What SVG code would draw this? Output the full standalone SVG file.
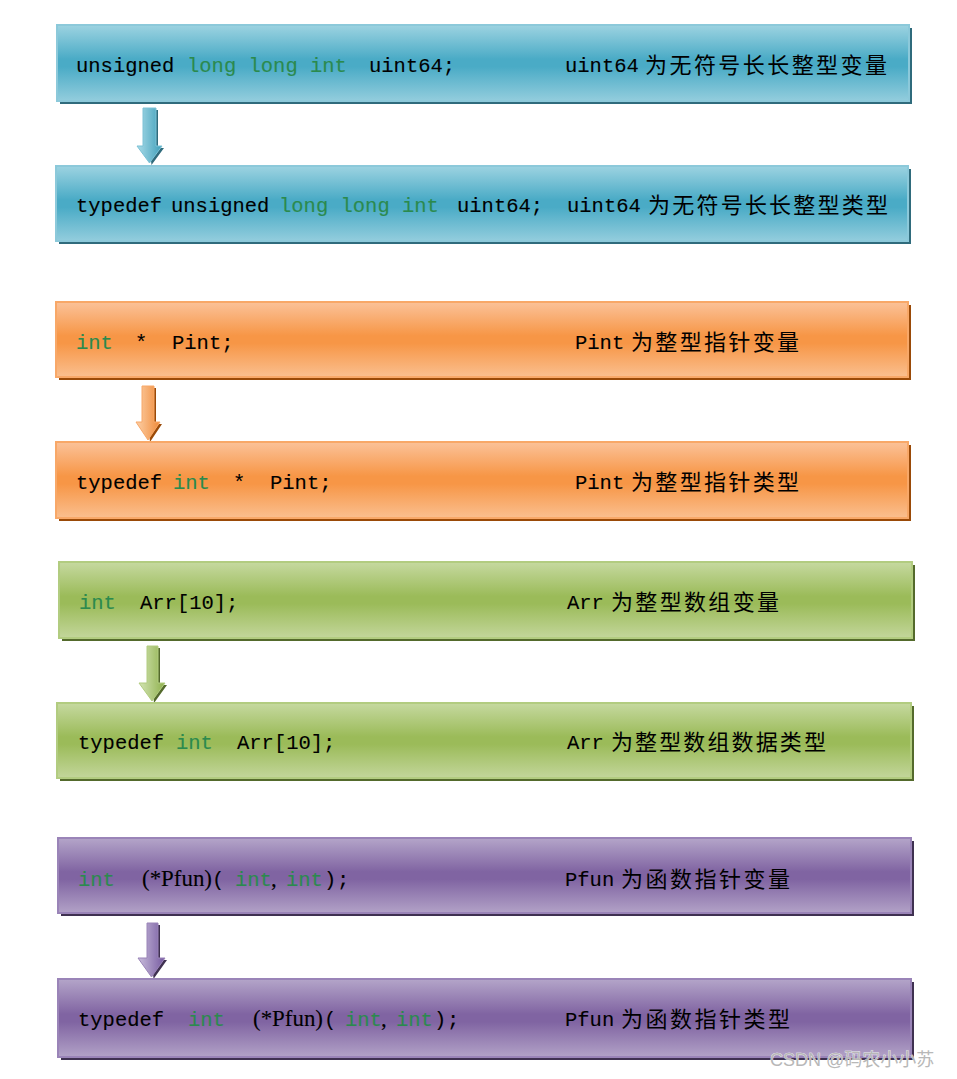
<svg xmlns="http://www.w3.org/2000/svg" width="957" height="1079" viewBox="0 0 957 1079">
<defs>
<linearGradient id="gB" x1="0" y1="0" x2="0" y2="1"><stop offset="0" stop-color="#9dd3e1"/><stop offset="0.45" stop-color="#4aabc6"/><stop offset="0.55" stop-color="#4aabc6"/><stop offset="1" stop-color="#93cddd"/></linearGradient>
<linearGradient id="gO" x1="0" y1="0" x2="0" y2="1"><stop offset="0" stop-color="#fbc299"/><stop offset="0.45" stop-color="#f79646"/><stop offset="0.55" stop-color="#f79646"/><stop offset="1" stop-color="#fabf8f"/></linearGradient>
<linearGradient id="gG" x1="0" y1="0" x2="0" y2="1"><stop offset="0" stop-color="#c6d9a0"/><stop offset="0.45" stop-color="#9bbb59"/><stop offset="0.55" stop-color="#9bbb59"/><stop offset="1" stop-color="#c3d69b"/></linearGradient>
<linearGradient id="gP" x1="0" y1="0" x2="0" y2="1"><stop offset="0" stop-color="#b4a5c9"/><stop offset="0.45" stop-color="#8064a2"/><stop offset="0.55" stop-color="#8064a2"/><stop offset="1" stop-color="#b2a2c7"/></linearGradient>
<linearGradient id="aB" x1="0" y1="0" x2="1" y2="0"><stop offset="0" stop-color="#a9dbe8"/><stop offset="1" stop-color="#3f9fba"/></linearGradient>
<linearGradient id="aO" x1="0" y1="0" x2="1" y2="0"><stop offset="0" stop-color="#fcd0a8"/><stop offset="1" stop-color="#f08a38"/></linearGradient>
<linearGradient id="aG" x1="0" y1="0" x2="1" y2="0"><stop offset="0" stop-color="#d3e4b3"/><stop offset="1" stop-color="#8eb04c"/></linearGradient>
<linearGradient id="aP" x1="0" y1="0" x2="1" y2="0"><stop offset="0" stop-color="#c9bddb"/><stop offset="1" stop-color="#7559a0"/></linearGradient>
</defs>
<style>
.t{font-family:"Liberation Mono",monospace;font-size:20.5px;fill:#000;stroke:#000;stroke-width:0.1;}
.k{fill:#2b8a4e;stroke:#2b8a4e;}
.s{font-family:"Liberation Serif",serif;font-size:23px;}
.c{font-family:"Noto Sans CJK SC",sans-serif;font-size:22px;fill:#000;}
.bB{fill:url(#gB);stroke:#8cc9da;stroke-width:2;}
.bO{fill:url(#gO);stroke:#f8a868;stroke-width:2;}
.bG{fill:url(#gG);stroke:#b2cc80;stroke-width:2;}
.bP{fill:url(#gP);stroke:#9a84b8;stroke-width:2;}
.shB{fill:#2f6b7c;}
.shO{fill:#9a4a08;}
.shG{fill:#546a2c;}
.shP{fill:#3f3151;}
</style>

<g id="connectors">
<polygon points="145,110 158,110 158,148 164,148 151.5,165" fill="#2f6b7c"/>
<polygon points="143,108 156,108 156,146 162,146 149.5,163 137,146 143,146" fill="url(#aB)" stroke="#7cc2d6" stroke-width="1"/>
<polygon points="144,388 156,388 156,424 162,424 150,442" fill="#9a4a08"/>
<polygon points="142,386 154,386 154,422 160,422 148,440 136,422 142,422" fill="url(#aO)" stroke="#f8a868" stroke-width="1"/>
<polygon points="149,648 160,648 160,685 167,685 154,703" fill="#546a2c"/>
<polygon points="147,646 158,646 158,683 165,683 152,701 139,683 147,683" fill="url(#aG)" stroke="#b2cc80" stroke-width="1"/>
<polygon points="149,925 160,925 160,960 167,960 153.5,979" fill="#3f3151"/>
<polygon points="147,923 158,923 158,958 165,958 151.5,977 138,958 147,958" fill="url(#aP)" stroke="#9a84b8" stroke-width="1"/>
</g>

<g id="node-b1">
<rect x="60" y="28" width="852" height="76" class="shB"/>
<rect x="57" y="25" width="852" height="76" class="bB"/>
<text class="t" y="72"><tspan x="76">unsigned</tspan><tspan x="187" class="k">long long int</tspan><tspan x="369">uint64;</tspan><tspan x="565">uint64</tspan></text>
<text class="c" x="645" y="73" textLength="242" lengthAdjust="spacing">为无符号长长整型变量</text>
</g>

<g id="node-b2">
<rect x="59" y="169" width="852" height="75" class="shB"/>
<rect x="56" y="166" width="852" height="75" class="bB"/>
<text class="t" y="212"><tspan x="76">typedef</tspan><tspan x="171">unsigned</tspan><tspan x="279" class="k">long long int</tspan><tspan x="457">uint64;</tspan><tspan x="567">uint64</tspan></text>
<text class="c" x="648" y="213" textLength="240" lengthAdjust="spacing">为无符号长长整型类型</text>
</g>

<g id="node-o1">
<rect x="59" y="305" width="852" height="75" class="shO"/>
<rect x="56" y="302" width="852" height="75" class="bO"/>
<text class="t" y="349"><tspan x="76" class="k">int</tspan><tspan x="135">*</tspan><tspan x="172">Pint;</tspan><tspan x="575">Pint</tspan></text>
<text class="c" x="631" y="350" textLength="168" lengthAdjust="spacing">为整型指针变量</text>
</g>

<g id="node-o2">
<rect x="59" y="445" width="852" height="76" class="shO"/>
<rect x="56" y="442" width="852" height="76" class="bO"/>
<text class="t" y="489"><tspan x="76">typedef</tspan><tspan x="173" class="k">int</tspan><tspan x="233">*</tspan><tspan x="270">Pint;</tspan><tspan x="575">Pint</tspan></text>
<text class="c" x="631" y="490" textLength="168" lengthAdjust="spacing">为整型指针类型</text>
</g>

<g id="node-g1">
<rect x="62" y="565" width="853" height="76" class="shG"/>
<rect x="59" y="562" width="853" height="76" class="bG"/>
<text class="t" y="609"><tspan x="79" class="k">int</tspan><tspan x="140">Arr[10];</tspan><tspan x="567">Arr</tspan></text>
<text class="c" x="611" y="610" textLength="168" lengthAdjust="spacing">为整型数组变量</text>
</g>

<g id="node-g2">
<rect x="60" y="706" width="854" height="75" class="shG"/>
<rect x="57" y="703" width="854" height="75" class="bG"/>
<text class="t" y="749"><tspan x="78">typedef</tspan><tspan x="176" class="k">int</tspan><tspan x="237">Arr[10];</tspan><tspan x="567">Arr</tspan></text>
<text class="c" x="611" y="750" textLength="215" lengthAdjust="spacing">为整型数组数据类型</text>
</g>

<g id="node-p1">
<rect x="61" y="841" width="853" height="75" class="shP"/>
<rect x="58" y="838" width="853" height="75" class="bP"/>
<text class="t" y="886"><tspan x="78" class="k">int</tspan><tspan x="142" class="s" textLength="70" lengthAdjust="spacingAndGlyphs">(*Pfun)</tspan><tspan x="212">(</tspan><tspan x="235" class="k">int</tspan><tspan x="271" class="s">,</tspan><tspan x="286" class="k">int</tspan><tspan x="324">)</tspan><tspan x="337">;</tspan><tspan x="565">Pfun</tspan></text>
<text class="c" x="621" y="887" textLength="169" lengthAdjust="spacing">为函数指针变量</text>
</g>

<g id="node-p2">
<rect x="61" y="982" width="853" height="78" class="shP"/>
<rect x="58" y="979" width="853" height="78" class="bP"/>
<text class="t" y="1026"><tspan x="78">typedef</tspan><tspan x="188" class="k">int</tspan><tspan x="253" class="s" textLength="70" lengthAdjust="spacingAndGlyphs">(*Pfun)</tspan><tspan x="324">(</tspan><tspan x="345" class="k">int</tspan><tspan x="381" class="s">,</tspan><tspan x="396" class="k">int</tspan><tspan x="434">)</tspan><tspan x="447">;</tspan><tspan x="565">Pfun</tspan></text>
<text class="c" x="621" y="1027" textLength="169" lengthAdjust="spacing">为函数指针类型</text>
</g>

<text x="770" y="1066" font-family="'Liberation Sans','Noto Sans CJK SC',sans-serif" font-size="18" fill="#b8b8b8" stroke="#ffffff" stroke-width="0.6" paint-order="stroke">CSDN @码农小小苏</text>
</svg>
